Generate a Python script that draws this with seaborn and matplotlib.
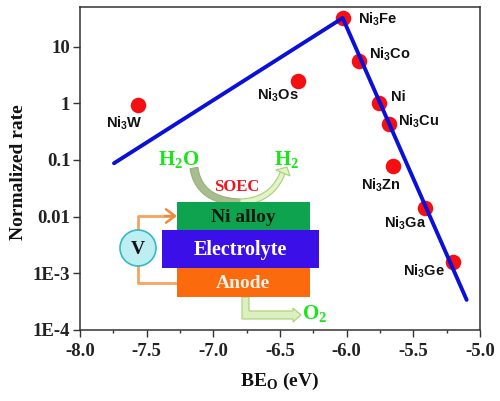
import numpy as np
import matplotlib
matplotlib.use('Agg')
import matplotlib.pyplot as plt
import seaborn as sns
from matplotlib.patches import Rectangle, Circle, Polygon, FancyArrowPatch

names = ['Ni$_3$W', 'Ni$_3$Os', 'Ni$_3$Fe', 'Ni$_3$Co', 'Ni', 'Ni$_3$Cu', 'Ni$_3$Zn', 'Ni$_3$Ga', 'Ni$_3$Ge']
be_o = [-7.565, -6.365, -6.025, -5.91, -5.76, -5.68, -5.65, -5.41, -5.2]
rate = [0.92, 2.44, 31.6, 5.6, 1.0, 0.43, 0.078, 0.014, 0.0016]
label_x = [-7.67, -6.515, -5.77, -5.675, -5.61, -5.46, -5.745, -5.56, -5.42]
label_y = [0.444, 1.38, 30.3, 7.3, 1.28, 0.48, 0.0358, 0.00765, 0.00109]

volcano_x = [-7.745, -6.03, -5.1]
volcano_y = [0.0875, 32, 0.00034]

yticks = [1e-4, 1e-3, 0.01, 0.1, 1, 10]
ylabels = ['1E-4', '1E-3', '0.01', '0.1', '1', '10']
xticks = [-8.0, -7.5, -7.0, -6.5, -6.0, -5.5, -5.0]

sns.set_style('ticks')
plt.rcParams['font.family'] = ['Liberation Serif', 'DejaVu Serif']
plt.rcParams['mathtext.fontset'] = 'custom'
plt.rcParams['mathtext.rm'] = 'Liberation Sans:bold'
plt.rcParams['mathtext.bf'] = 'Liberation Serif:bold'
plt.rcParams['mathtext.it'] = 'Liberation Sans:bold'

fig = plt.figure(figsize=(5, 4.01), dpi=100)
ax = fig.add_axes([80 / 500, 1 - 330 / 401, 400 / 500, 323 / 401])

sns.scatterplot(x=be_o, y=rate, color='#f40f12', s=125, linewidth=0, ax=ax, zorder=2)
sns.lineplot(x=volcano_x, y=volcano_y, color='#0a10d8', linewidth=2.8, sort=False,
             estimator=None, ax=ax, zorder=3)

ax.set_yscale('log')
ax.set_xlim(-8, -5)
ax.set_ylim(1e-4, 50)
ax.set_yticks(yticks)
ax.set_yticklabels(ylabels)
ax.minorticks_off()
ax.set_xticks(xticks)
ax.set_xticklabels([f'{v:.1f}' for v in xticks])
ax.set_xticks(np.arange(-7.75, -5, 0.5), minor=True)
ax.tick_params(axis='x', which='major', length=5, width=1, color='#333333', pad=4.5)
ax.tick_params(axis='y', which='major', length=5, width=1, color='#333333', pad=2)
ax.tick_params(axis='x', which='minor', length=2.5, width=1, color='#333333')
for lab in ax.get_xticklabels() + ax.get_yticklabels():
    lab.set_fontsize(13.5)
    lab.set_fontweight('bold')
    lab.set_color('#222222')
for sp in ax.spines.values():
    sp.set_visible(True)
    sp.set_color('#333333')
    sp.set_linewidth(1.1)

ax.set_xlabel('BE$_{\\mathbf{O}}$ (eV)', fontsize=14, fontweight='bold', labelpad=8, color='#111111')
ax.set_ylabel('Normalized rate', fontsize=14, fontweight='bold', labelpad=4, y=0.49, color='#111111')

for n, lx, ly in zip(names, label_x, label_y):
    ax.text(lx, ly, n, family='Liberation Sans', fontweight='bold', fontsize=10.5,
            ha='center', va='center', color='#111111')

# inset cell diagram, in picture pixels
ov = fig.add_axes([0, 0, 1, 1])
ov.set_xlim(0, 500)
ov.set_ylim(401, 0)
ov.axis('off')
ov.patch.set_alpha(0)


def ribbon(p0, p1, p2, w0, w1, face, edge):
    t = np.linspace(0, 1, 40)[:, None]
    p0, p1, p2 = np.array(p0), np.array(p1), np.array(p2)
    c = (1 - t) ** 2 * p0 + 2 * t * (1 - t) * p1 + t ** 2 * p2
    d = np.gradient(c, axis=0)
    n = np.c_[-d[:, 1], d[:, 0]] / np.linalg.norm(d, axis=1)[:, None]
    w = w0 + (w1 - w0) * t
    pts = np.r_[c + n * w / 2, (c - n * w / 2)[::-1]]
    ov.add_patch(Polygon(pts, fc=face, ec=edge, lw=0.8, zorder=2))


serif = dict(family='Liberation Serif', fontweight='bold', ha='center', va='center')

ov.plot([138, 138, 170], [232, 216, 216], color='#f5a35e', lw=2, zorder=1)
ov.plot([138, 138, 178], [264, 283, 283], color='#f5a35e', lw=2, zorder=1)
ov.add_patch(FancyArrowPatch((165, 216), (177, 216), arrowstyle='->,head_length=4,head_width=3',
                             mutation_scale=1.6, color='#f08a3c', lw=1.8, zorder=1,
                             shrinkA=0, shrinkB=0))

ov.add_patch(Rectangle((177, 202), 133, 28, fc='#0da34f', ec='none', zorder=3))
ov.add_patch(Rectangle((162, 230), 157, 38, fc='#3b10e8', ec='none', zorder=3))
ov.add_patch(Rectangle((177, 268), 133, 29, fc='#fb6a0c', ec='none', zorder=3))
ov.text(243, 217, 'Ni alloy', fontsize=14, color='#0a1a10', zorder=5, **serif)
ov.text(240, 250, 'Electrolyte', fontsize=14.5, color='white', zorder=5, **serif)
ov.text(243, 284, 'Anode', fontsize=14, color='#fdf0e4', zorder=5, **serif)

ov.add_patch(Circle((138, 248), 18, fc='#bdeef2', ec='#35b8c4', lw=1.2, zorder=4))
ov.text(138, 249, 'V', fontsize=14, color='#101010', zorder=5, **serif)

# H2O -> H2 arrow
ribbon((194, 168), (199, 201), (240, 202), 8, 6, '#a8bd8e', '#98b080')
ribbon((240, 202), (272, 201), (283, 172), 6, 5, '#e2f3c8', '#a9cf78')
ov.add_patch(Polygon([(276, 170), (287, 167), (290, 176)], fc='#e2f3c8', ec='#a9cf78',
                     lw=0.8, zorder=2))
ov.text(237, 187, 'SOEC', fontsize=12, color='#f0141c', zorder=5, **serif)
ov.text(179, 160, 'H$_{\\mathbf{2}}$O', fontsize=15, color='#19e619', zorder=5, **serif)
ov.text(287, 160, 'H$_{\\mathbf{2}}$', fontsize=15, color='#19e619', zorder=5, **serif)

# O2 arrow
ov.add_patch(Polygon([(242, 297), (249, 297), (249, 311), (293, 311), (293, 308), (301, 315),
                      (293, 322), (293, 319), (242, 319)], fc='#dcefc0', ec='#a9cf78', lw=0.8, zorder=2))
ov.text(315, 314, 'O$_{\\mathbf{2}}$', fontsize=15, color='#19e619', zorder=5, **serif)

fig.savefig('out.png', dpi=100, facecolor='white')
